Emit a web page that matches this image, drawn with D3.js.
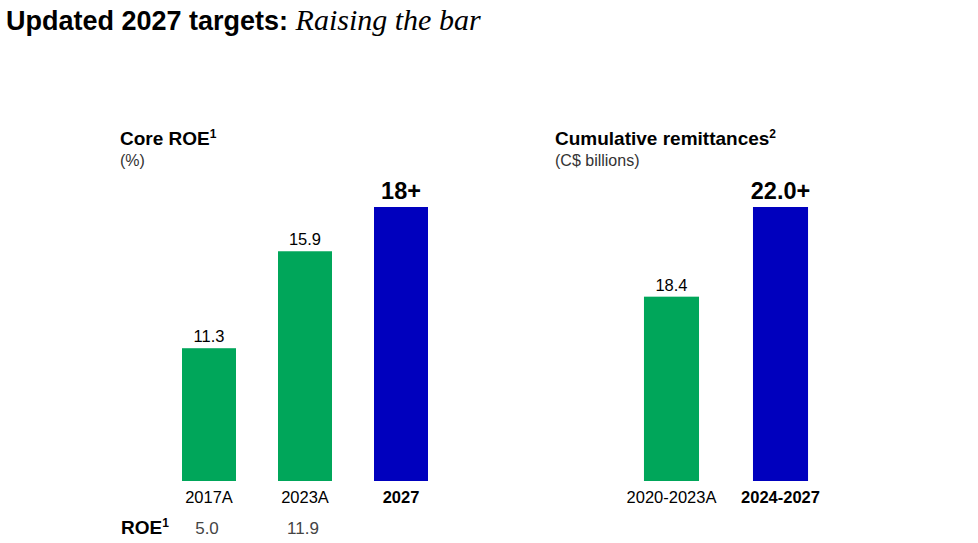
<!DOCTYPE html>
<html>
<head>
<meta charset="utf-8">
<script src="https://cdn.jsdelivr.net/npm/d3@7"></script>
<style>
  body { margin: 0; background: #fff; }
  svg { display: block; font-family: Arial, "Liberation Sans", sans-serif; }
</style>
</head>
<body>
<svg id="chart" width="978" height="543"></svg>
<script>
// Core ROE (%)
const roeCategories = ["2017A", "2023A", "2027"],
    roeValues = [11.3, 15.9, 18],
    roeLabels = ["11.3", "15.9", "18+"],
    roeTarget = [false, false, true],
    roeReported = ["5.0", "11.9", ""];

// Cumulative remittances (C$ billions)
const remCategories = ["2020-2023A", "2024-2027"],
    remValues = [18.4, 22.0],
    remLabels = ["18.4", "22.0+"],
    remTarget = [false, true];

const GREEN = "#00a65a",
    BLUE = "#0000be",
    baseline = 481,
    topY = 207;

const svg = d3.select("#chart");

// title
const title = svg.append("text").attr("x", 6).attr("y", 30);
title.append("tspan")
    .attr("font-size", 27).attr("font-weight", "bold").attr("fill", "#000")
    .text("Updated 2027 targets: ");
title.append("tspan")
    .attr("font-family", "'Liberation Serif', 'DejaVu Serif', serif")
    .attr("font-style", "italic").attr("font-size", 30).attr("fill", "#000")
    .text("Raising the bar");

const header = (x, main, sup, sub) => {
    const t = svg.append("text").attr("x", x).attr("y", 145)
        .attr("font-size", 19).attr("font-weight", "bold").attr("fill", "#000");
    t.append("tspan").text(main);
    t.append("tspan").attr("font-size", 12).attr("dy", -7).text(sup);
    svg.append("text").attr("x", x).attr("y", 166)
        .attr("font-size", 16).attr("fill", "#333").text(sub);
};

const drawBars = (cats, vals, labels, target, xRange, pad, yDomain) => {
    const x = d3.scaleBand().domain(cats).range(xRange).padding(pad);
    const y = d3.scaleLinear().domain(yDomain).range([baseline, topY]);
    const g = svg.append("g");
    const data = cats.map((c, i) => ({c, v: vals[i], l: labels[i], t: target[i]}));

    g.selectAll("rect").data(data).join("rect")
        .attr("x", d => x(d.c))
        .attr("y", d => y(d.v))
        .attr("width", x.bandwidth())
        .attr("height", d => baseline - y(d.v))
        .attr("fill", d => d.t ? BLUE : GREEN);

    g.selectAll("text.val").data(data).join("text")
        .attr("class", "val")
        .attr("x", d => x(d.c) + x.bandwidth() / 2)
        .attr("y", d => y(d.v) - (d.t ? 8 : 6))
        .attr("text-anchor", "middle")
        .attr("font-size", d => d.t ? 23.5 : 16.5)
        .attr("font-weight", d => d.t ? "bold" : "normal")
        .attr("fill", "#000")
        .text(d => d.l);

    const axis = d3.axisBottom(x).tickSize(0).tickPadding(0);
    const ax = g.append("g").attr("transform", `translate(0,${baseline})`).call(axis);
    ax.select(".domain").remove();
    ax.selectAll("text")
        .attr("y", 22)
        .attr("dy", 0)
        .attr("font-size", 16.5)
        .attr("font-family", "Arial, 'Liberation Sans', sans-serif")
        .attr("fill", "#000")
        .attr("font-weight", d => target[cats.indexOf(d)] ? "bold" : "normal");
    return x;
};

header(120, "Core ROE", "1", "(%)");
const xRoe = drawBars(roeCategories, roeValues, roeLabels, roeTarget, [140, 470], 0.4375, [5, 18]);

header(555, "Cumulative remittances", "2", "(C$ billions)");
drawBars(remCategories, remValues, remLabels, remTarget, [590, 862], 0.495, [11, 22]);

// reported ROE row
const roeRow = svg.append("text").attr("x", 121).attr("y", 534)
    .attr("font-size", 19).attr("font-weight", "bold").attr("fill", "#000");
roeRow.append("tspan").text("ROE");
roeRow.append("tspan").attr("font-size", 12).attr("dy", -7).text("1");

svg.selectAll("text.rep").data(roeCategories.filter((c, i) => roeReported[i])).join("text")
    .attr("class", "rep")
    .attr("x", c => xRoe(c) + xRoe.bandwidth() / 2 - 2)
    .attr("y", 534)
    .attr("text-anchor", "middle")
    .attr("font-size", 17)
    .attr("fill", "#444")
    .text(c => roeReported[roeCategories.indexOf(c)]);
</script>
</body>
</html>
